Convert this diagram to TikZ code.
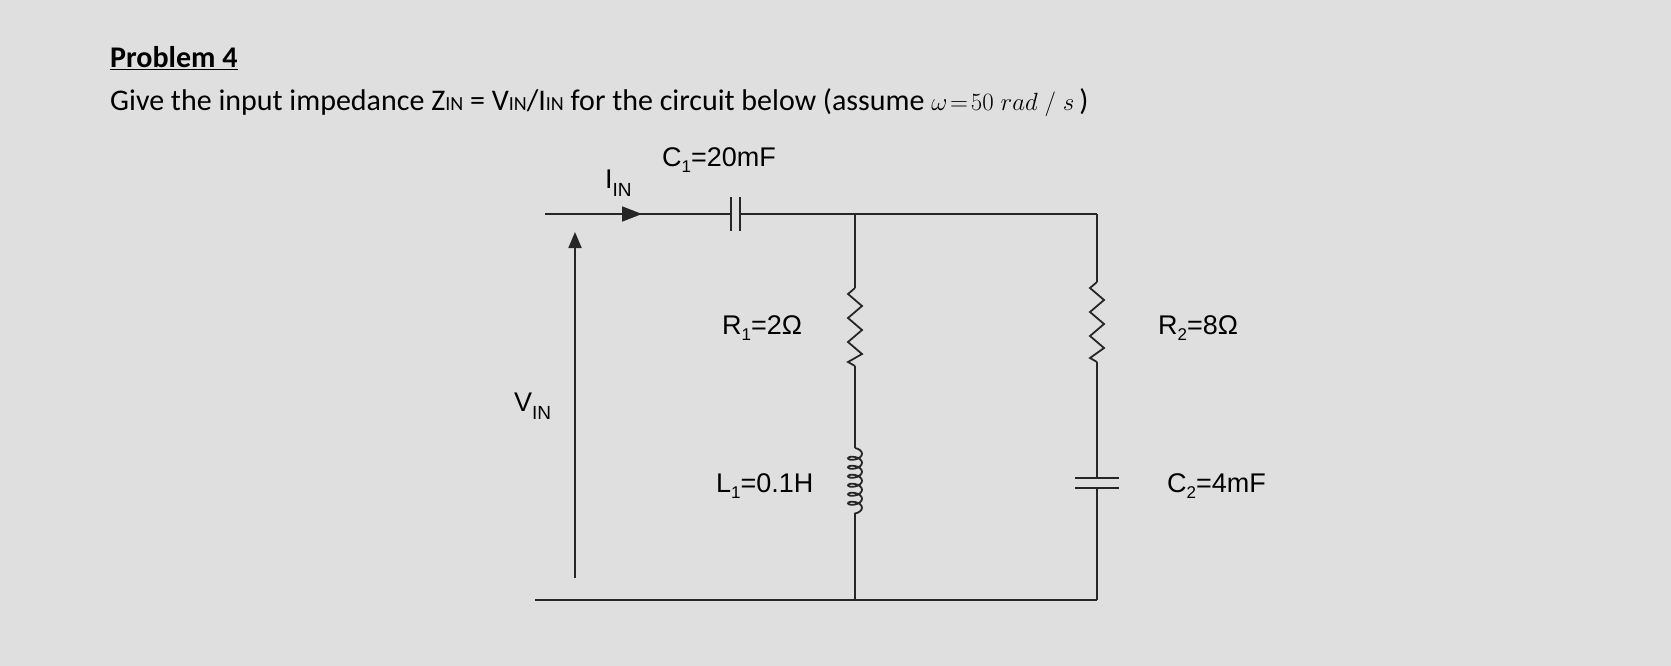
\documentclass[tikz,border=0pt]{standalone}
\usepackage{fontspec}
\setmainfont{Carlito}
\newfontfamily\arial{Liberation Sans}
\usetikzlibrary{decorations.pathmorphing,arrows.meta}
\newcommand{\sbs}[1]{\raisebox{-0.22em}{\fontsize{17}{17}\selectfont #1}}
\begin{document}
\begin{tikzpicture}[x=1pt,y=-1pt,
  wire/.style={line width=1.8pt,black!85},
  lab/.style={font=\arial\fontsize{27}{30}\selectfont,inner sep=0pt,anchor=west}]
\fill[gray!25] (0,0) rectangle (1671,666);
\useasboundingbox (0,0) rectangle (1671,666);
% title text
\node[anchor=base west,inner sep=0pt,font=\bfseries\fontsize{30}{34}\selectfont] (t1) at (110,68) {\underline{Problem 4}};
\node[anchor=base west,inner sep=0pt,font=\fontsize{30}{34}\selectfont] (t2) at (110,111)
 {Give the input impedance Z{\fontsize{20}{22}\selectfont IN} = V{\fontsize{20}{22}\selectfont IN}/I{\fontsize{20}{22}\selectfont IN} for the circuit below (assume {\fontsize{34}{36}\selectfont$\omega\!=\!50\;rad\;/\;s$}\,)};
% coordinates
\coordinate (tl) at (545,214);
\coordinate (c1a) at (731,214);
\coordinate (c1b) at (740,214);
\coordinate (n1) at (855,214);
\coordinate (tr) at (1097,214);
\coordinate (bl) at (535,600);
\coordinate (b1) at (855,600);
\coordinate (br) at (1097,600);
\coordinate (r1t) at (855,288);
\coordinate (r1b) at (855,366);
\coordinate (l1t) at (855,448);
\coordinate (l1b) at (855,514);
\coordinate (r2t) at (1097,282);
\coordinate (r2b) at (1097,362);
\coordinate (c2a) at (1097,478);
\coordinate (c2b) at (1097,488);
% wires
\draw[wire] (tl) -- (c1a);
\draw[wire] (c1b) -- (tr);
\draw[wire] (c1a)+(0,-17) -- +(0,17);
\draw[wire] (c1b)+(0,-17) -- +(0,17);
\draw[wire] (bl) -- (br);
\draw[wire] (n1) -- (r1t);
\draw[wire] (r1t) -- (848,294) -- (862,306) -- (848,318) -- (862,330) -- (848,342) -- (862,354) -- (848,362) -- (r1b);
\draw[wire] (r1b) -- (l1t);
\draw[wire,decorate,decoration={coil,amplitude=7pt,segment length=9pt}] (l1t) -- (l1b);
\draw[wire] (l1b) -- (b1);
\draw[wire] (tr) -- (r2t);
\draw[wire] (r2t) -- (1090,288) -- (1104,300) -- (1090,312) -- (1104,324) -- (1090,336) -- (1104,348) -- (1090,358) -- (r2b);
\draw[wire] (r2b) -- (c2a);
\draw[wire] (c2a)+(-22,0) -- +(22,0);
\draw[wire] (c2b)+(-22,0) -- +(22,0);
\draw[wire] (c2b) -- (br);
% arrows
\coordinate (va) at (575,578);
\coordinate (vb) at (575,232);
\draw[wire,-{Triangle[length=16pt,width=13pt]}] (va) -- (vb);
\coordinate (ia) at (600,214);
\coordinate (ib) at (642,214);
\draw[wire,-{Triangle[length=20pt,width=15pt]}] (ia) -- (ib);
% labels
\node[lab] (lI) at (605,183) {I\raisebox{-0.3em}{\fontsize{19}{19}\selectfont IN}};
\node[lab] (lC1) at (662,160) {C\sbs{1}=20mF};
\node[lab] (lR1) at (722,328) {R\sbs{1}=2Ω};
\node[lab] (lR2) at (1158,328) {R\sbs{2}=8Ω};
\node[lab] (lL1) at (716,486) {L\sbs{1}=0.1H};
\node[lab] (lC2) at (1167,486) {C\sbs{2}=4mF};
\node[lab] (lV) at (514,406) {V\raisebox{-0.3em}{\fontsize{19}{19}\selectfont IN}};
\end{tikzpicture}
\end{document}
